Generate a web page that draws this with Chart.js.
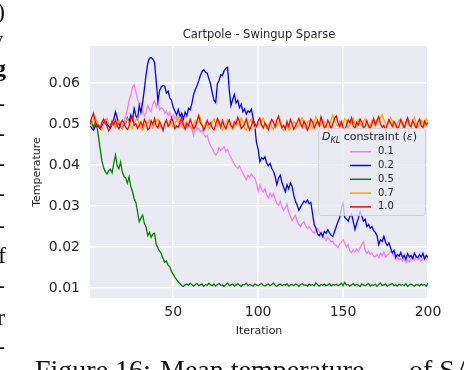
<!DOCTYPE html>
<html lang="en">
<head>
    <meta charset="UTF-8">
    <title>Cartpole - Swingup Sparse</title>
    <!-- Chart.js from CDN -->
    <script src="https://cdn.jsdelivr.net/npm/chart.js"></script>
    <style>
        body {
            margin: 0;
            width: 464px;
            height: 370px;
            overflow: hidden;
            position: relative;
            background-color: #fff;
            font-family: 'DejaVu Sans', sans-serif;
        }
        #chartBox {
            position: absolute;
            left: 0;
            top: 0;
        }
        /* bits of the surrounding paper text */
        .frag {
            position: absolute;
            font-family: 'Liberation Serif', serif;
            font-size: 24px;
            line-height: 24px;
            color: #111;
            white-space: nowrap;
        }
        .cap {
            position: absolute;
            font-family: 'Liberation Serif', serif;
            font-size: 28px;
            line-height: 28px;
            color: #111;
            white-space: nowrap;
            top: 356px;
        }
    </style>
</head>
<body>
    <canvas id="chartBox" width="464" height="370"></canvas>

    <div class="frag" style="left:-3px; top:-1px;">)</div>
    <div class="frag" style="left:-7px; top:27px; font-size:20px;">v</div>
    <div class="frag" style="left:-6px; top:56px; font-weight:bold;">g</div>
    <div class="frag" style="left:-3px; top:91px;">-</div>
    <div class="frag" style="left:-3px; top:121px;">-</div>
    <div class="frag" style="left:-3px; top:151px;">-</div>
    <div class="frag" style="left:-3px; top:181px;">-</div>
    <div class="frag" style="left:-3px; top:213px;">-</div>
    <div class="frag" style="left:-2px; top:243px;">f</div>
    <div class="frag" style="left:-3px; top:273px;">-</div>
    <div class="frag" style="left:-3px; top:305px;">r</div>
    <div class="frag" style="left:-3px; top:334px;">-</div>

    <div class="cap" style="left:35px;">Figure 16:</div>
    <div class="cap" style="left:160px;">Mean temperature</div>
    <div class="cap" style="left:409px;">of SARI</div>

    <script>
        // x axis: iteration number
        const iterations = Array.from({ length: 200 }, (_, i) => i + 1);

        // temperature per KL constraint
        const temp01 = [
            0.0503,0.0498,0.0494,0.0500,0.0506,0.0499,0.0491,0.0496,0.0502,0.0505,0.0497,0.0493,0.0499,0.0504,0.0496,0.0490,0.0498,0.0507,0.0501,0.0496,
            0.0506,0.0520,0.0534,0.0558,0.0571,0.0590,0.0595,0.0578,0.0560,0.0548,0.0552,0.0530,0.0520,0.0528,0.0545,0.0535,0.0530,0.0548,0.0556,0.0542,
            0.0555,0.0535,0.0540,0.0538,0.0526,0.0532,0.0520,0.0528,0.0515,0.0522,0.0513,0.0518,0.0505,0.0497,0.0508,0.0495,0.0502,0.0490,0.0498,0.0494,
            0.0487,0.0473,0.0502,0.0486,0.0490,0.0481,0.0485,0.0476,0.0468,0.0472,0.0458,0.0447,0.0440,0.0431,0.0424,0.0430,0.0442,0.0436,0.0440,0.0444,
            0.0432,0.0438,0.0426,0.0418,0.0410,0.0402,0.0396,0.0392,0.0398,0.0388,0.0380,0.0372,0.0364,0.0375,0.0370,0.0378,0.0372,0.0368,0.0356,0.0336,
            0.0352,0.0340,0.0334,0.0342,0.0328,0.0320,0.0331,0.0322,0.0330,0.0318,0.0306,0.0302,0.0312,0.0298,0.0290,0.0296,0.0305,0.0284,0.0276,0.0265,
            0.0272,0.0278,0.0262,0.0255,0.0250,0.0258,0.0262,0.0252,0.0245,0.0250,0.0244,0.0238,0.0234,0.0240,0.0246,0.0238,0.0230,0.0226,0.0222,0.0216,
            0.0224,0.0218,0.0212,0.0214,0.0206,0.0204,0.0199,0.0208,0.0212,0.0218,0.0210,0.0200,0.0206,0.0190,0.0186,0.0194,0.0188,0.0196,0.0190,0.0198,
            0.0206,0.0213,0.0192,0.0185,0.0190,0.0182,0.0186,0.0178,0.0176,0.0182,0.0174,0.0185,0.0178,0.0188,0.0176,0.0180,0.0184,0.0190,0.0186,0.0178,
            0.0170,0.0176,0.0168,0.0172,0.0166,0.0174,0.0162,0.0168,0.0164,0.0172,0.0176,0.0168,0.0178,0.0170,0.0174,0.0166,0.0172,0.0176,0.0170,0.0178
        ];
        const temp02 = [
            0.0497,0.0490,0.0485,0.0493,0.0500,0.0494,0.0488,0.0495,0.0503,0.0510,0.0501,0.0495,0.0490,0.0498,0.0512,0.0530,0.0515,0.0500,0.0494,0.0489,
            0.0497,0.0503,0.0515,0.0505,0.0522,0.0510,0.0538,0.0520,0.0512,0.0545,0.0528,0.0552,0.0585,0.0620,0.0648,0.0660,0.0662,0.0658,0.0650,0.0603,
            0.0556,0.0582,0.0591,0.0594,0.0592,0.0575,0.0580,0.0563,0.0558,0.0540,0.0531,0.0522,0.0535,0.0518,0.0526,0.0512,0.0529,0.0520,0.0538,0.0535,
            0.0550,0.0572,0.0584,0.0593,0.0605,0.0618,0.0628,0.0632,0.0626,0.0624,0.0610,0.0597,0.0575,0.0558,0.0552,0.0598,0.0606,0.0620,0.0618,0.0630,
            0.0636,0.0638,0.0582,0.0545,0.0560,0.0572,0.0551,0.0558,0.0540,0.0548,0.0530,0.0537,0.0524,0.0532,0.0528,0.0536,0.0515,0.0495,0.0455,0.0438,
            0.0408,0.0418,0.0414,0.0420,0.0405,0.0398,0.0404,0.0392,0.0385,0.0372,0.0352,0.0368,0.0375,0.0358,0.0346,0.0335,0.0352,0.0342,0.0356,0.0348,
            0.0326,0.0311,0.0302,0.0290,0.0298,0.0305,0.0312,0.0308,0.0315,0.0306,0.0309,0.0282,0.0255,0.0246,0.0232,0.0228,0.0235,0.0226,0.0238,0.0234,
            0.0242,0.0235,0.0228,0.0226,0.0238,0.0250,0.0262,0.0272,0.0295,0.0308,0.0272,0.0268,0.0263,0.0275,0.0280,0.0262,0.0243,0.0258,0.0270,0.0287,
            0.0276,0.0263,0.0268,0.0250,0.0255,0.0246,0.0250,0.0240,0.0236,0.0228,0.0206,0.0218,0.0214,0.0226,0.0212,0.0204,0.0210,0.0198,0.0186,0.0192,
            0.0175,0.0182,0.0178,0.0187,0.0174,0.0180,0.0170,0.0184,0.0176,0.0180,0.0172,0.0185,0.0177,0.0174,0.0182,0.0176,0.0185,0.0171,0.0180,0.0175
        ];
        const temp05 = [
            0.0498,0.0505,0.0492,0.0503,0.0496,0.0470,0.0438,0.0410,0.0394,0.0384,0.0378,0.0386,0.0390,0.0381,0.0404,0.0424,0.0398,0.0391,0.0407,0.0384,
            0.0372,0.0368,0.0356,0.0371,0.0348,0.0336,0.0318,0.0309,0.0286,0.0262,0.0271,0.0278,0.0258,0.0249,0.0228,0.0236,0.0224,0.0232,0.0234,0.0206,
            0.0198,0.0190,0.0184,0.0172,0.0163,0.0166,0.0156,0.0152,0.0140,0.0134,0.0127,0.0121,0.0115,0.0111,0.0106,0.0104,0.0108,0.0110,0.0107,0.0112,
            0.0108,0.0105,0.0109,0.0111,0.0106,0.0108,0.0110,0.0104,0.0109,0.0107,0.0112,0.0108,0.0106,0.0110,0.0105,0.0109,0.0111,0.0107,0.0108,0.0104,
            0.0109,0.0112,0.0106,0.0108,0.0110,0.0105,0.0108,0.0111,0.0107,0.0104,0.0109,0.0108,0.0112,0.0106,0.0109,0.0107,0.0105,0.0110,0.0108,0.0106,
            0.0109,0.0111,0.0107,0.0105,0.0108,0.0110,0.0106,0.0109,0.0112,0.0107,0.0104,0.0108,0.0110,0.0106,0.0109,0.0107,0.0111,0.0105,0.0108,0.0109,
            0.0106,0.0110,0.0108,0.0104,0.0109,0.0111,0.0107,0.0108,0.0105,0.0110,0.0107,0.0109,0.0106,0.0113,0.0108,0.0105,0.0109,0.0107,0.0110,0.0106,
            0.0108,0.0111,0.0105,0.0109,0.0107,0.0110,0.0106,0.0108,0.0112,0.0106,0.0114,0.0107,0.0109,0.0105,0.0108,0.0111,0.0106,0.0109,0.0107,0.0104,
            0.0110,0.0108,0.0106,0.0109,0.0111,0.0105,0.0108,0.0107,0.0110,0.0104,0.0109,0.0112,0.0106,0.0108,0.0110,0.0105,0.0107,0.0109,0.0111,0.0106,
            0.0108,0.0105,0.0110,0.0107,0.0109,0.0106,0.0111,0.0104,0.0108,0.0110,0.0107,0.0105,0.0109,0.0108,0.0106,0.0110,0.0107,0.0109,0.0105,0.0112
        ];
        const temp07 = [
            0.0495,0.0501,0.0510,0.0517,0.0505,0.0498,0.0492,0.0486,0.0499,0.0508,0.0513,0.0502,0.0494,0.0500,0.0506,0.0491,0.0497,0.0509,0.0503,0.0488,
            0.0494,0.0505,0.0513,0.0500,0.0496,0.0489,0.0502,0.0510,0.0515,0.0498,0.0490,0.0485,0.0497,0.0506,0.0501,0.0511,0.0494,0.0490,0.0499,0.0507,
            0.0512,0.0498,0.0493,0.0487,0.0500,0.0505,0.0496,0.0508,0.0502,0.0491,0.0497,0.0510,0.0516,0.0503,0.0495,0.0489,0.0494,0.0506,0.0499,0.0493,
            0.0487,0.0498,0.0509,0.0501,0.0506,0.0514,0.0496,0.0491,0.0503,0.0497,0.0489,0.0494,0.0506,0.0512,0.0500,0.0493,0.0508,0.0498,0.0486,0.0496,
            0.0503,0.0511,0.0499,0.0492,0.0486,0.0495,0.0509,0.0502,0.0496,0.0514,0.0507,0.0490,0.0485,0.0499,0.0506,0.0512,0.0497,0.0489,0.0494,0.0502,
            0.0497,0.0508,0.0514,0.0501,0.0490,0.0496,0.0505,0.0493,0.0487,0.0500,0.0495,0.0503,0.0509,0.0488,0.0484,0.0492,0.0498,0.0485,0.0489,0.0497,
            0.0506,0.0502,0.0491,0.0497,0.0510,0.0515,0.0499,0.0490,0.0504,0.0508,0.0496,0.0489,0.0503,0.0517,0.0507,0.0494,0.0498,0.0509,0.0501,0.0492,
            0.0487,0.0498,0.0511,0.0522,0.0508,0.0500,0.0494,0.0506,0.0496,0.0503,0.0513,0.0507,0.0491,0.0499,0.0505,0.0514,0.0500,0.0493,0.0510,0.0502,
            0.0496,0.0505,0.0512,0.0501,0.0490,0.0497,0.0509,0.0506,0.0494,0.0500,0.0511,0.0515,0.0523,0.0510,0.0501,0.0496,0.0504,0.0515,0.0508,0.0497,
            0.0493,0.0501,0.0510,0.0506,0.0496,0.0489,0.0498,0.0512,0.0503,0.0495,0.0507,0.0516,0.0502,0.0492,0.0499,0.0510,0.0504,0.0495,0.0513,0.0506
        ];
        const temp10 = [
            0.0502,0.0515,0.0526,0.0508,0.0493,0.0497,0.0489,0.0504,0.0512,0.0501,0.0495,0.0483,0.0491,0.0507,0.0499,0.0510,0.0496,0.0488,0.0500,0.0509,
            0.0503,0.0492,0.0487,0.0494,0.0512,0.0518,0.0497,0.0501,0.0489,0.0496,0.0505,0.0493,0.0511,0.0502,0.0486,0.0490,0.0508,0.0499,0.0513,0.0495,
            0.0491,0.0506,0.0496,0.0484,0.0502,0.0510,0.0494,0.0499,0.0515,0.0505,0.0488,0.0495,0.0492,0.0503,0.0517,0.0498,0.0487,0.0501,0.0496,0.0511,
            0.0500,0.0489,0.0493,0.0507,0.0521,0.0502,0.0497,0.0485,0.0494,0.0509,0.0498,0.0503,0.0490,0.0486,0.0499,0.0513,0.0504,0.0492,0.0508,0.0495,
            0.0488,0.0502,0.0510,0.0496,0.0491,0.0505,0.0499,0.0516,0.0506,0.0489,0.0493,0.0500,0.0512,0.0497,0.0485,0.0496,0.0509,0.0501,0.0494,0.0507,
            0.0514,0.0498,0.0490,0.0503,0.0495,0.0486,0.0500,0.0511,0.0504,0.0493,0.0509,0.0519,0.0502,0.0491,0.0497,0.0488,0.0506,0.0494,0.0511,0.0499,
            0.0487,0.0496,0.0504,0.0513,0.0500,0.0492,0.0507,0.0498,0.0485,0.0494,0.0512,0.0505,0.0491,0.0499,0.0508,0.0496,0.0517,0.0503,0.0490,0.0495,
            0.0509,0.0500,0.0488,0.0501,0.0514,0.0520,0.0503,0.0494,0.0506,0.0491,0.0486,0.0497,0.0510,0.0502,0.0515,0.0495,0.0489,0.0504,0.0498,0.0512,
            0.0505,0.0490,0.0494,0.0508,0.0496,0.0487,0.0500,0.0513,0.0499,0.0509,0.0518,0.0501,0.0492,0.0497,0.0485,0.0498,0.0510,0.0503,0.0494,0.0506,
            0.0499,0.0487,0.0495,0.0511,0.0502,0.0490,0.0505,0.0515,0.0497,0.0493,0.0508,0.0500,0.0489,0.0503,0.0512,0.0496,0.0491,0.0507,0.0498,0.0504
        ];

        const seriesLabels = ['0.1', '0.2', '0.5', '0.7', '1.0'];
        const seriesColors = ['#ee82ee', '#0000ff', '#008000', '#ffa500', '#ff0000'];
        const xTicks = [50, 100, 150, 200];
        const yTicks = [0.01, 0.02, 0.03, 0.04, 0.05, 0.06];

        const textColor = '#262626';
        Chart.defaults.font.family = "'DejaVu Sans', sans-serif";
        Chart.defaults.color = textColor;

        // grey plot background (seaborn style)
        const plotBackground = {
            id: 'plotBackground',
            beforeDraw(chart) {
                const { ctx, chartArea: a } = chart;
                ctx.save();
                ctx.fillStyle = '#eaeaf2';
                ctx.fillRect(a.left, a.top, a.right - a.left, a.bottom - a.top);
                ctx.restore();
            }
        };

        // title above the plot
        const plotTitle = {
            id: 'plotTitle',
            afterDraw(chart) {
                const { ctx, chartArea: a } = chart;
                ctx.save();
                ctx.font = "11.5px 'DejaVu Sans', sans-serif";
                ctx.fillStyle = textColor;
                ctx.textAlign = 'center';
                ctx.textBaseline = 'middle';
                ctx.fillText('Cartpole - Swingup Sparse', (a.left + a.right) / 2, 35);
                ctx.restore();
            }
        };

        // legend box drawn inside the plot, like matplotlib's
        const insideLegend = {
            id: 'insideLegend',
            afterDatasetsDraw(chart) {
                const ctx = chart.ctx;
                const bx = 318.5, by = 128.5, bw = 107, bh = 87;
                ctx.save();
                ctx.beginPath();
                ctx.roundRect(bx, by, bw, bh, 3);
                ctx.fillStyle = 'rgba(234, 234, 242, 0.8)';
                ctx.fill();
                ctx.strokeStyle = 'rgba(204, 204, 204, 0.8)';
                ctx.lineWidth = 1;
                ctx.stroke();

                // title: D_KL constraint (ε)
                ctx.fillStyle = textColor;
                ctx.textBaseline = 'alphabetic';
                ctx.textAlign = 'left';
                let x = 322;
                const base = 140;
                ctx.font = "italic 11px 'DejaVu Sans', sans-serif";
                ctx.fillText('D', x, base);
                x += ctx.measureText('D').width;
                ctx.font = "italic 8px 'DejaVu Sans', sans-serif";
                ctx.fillText('KL', x, base + 2.5);
                x += ctx.measureText('KL').width;
                ctx.font = "11px 'DejaVu Sans', sans-serif";
                ctx.fillText(' constraint (', x, base);
                x += ctx.measureText(' constraint (').width;
                ctx.font = "italic 11px 'DejaVu Sans', sans-serif";
                ctx.fillText('\u03b5', x, base);
                x += ctx.measureText('\u03b5').width;
                ctx.font = "11px 'DejaVu Sans', sans-serif";
                ctx.fillText(')', x, base);

                // entries
                ctx.font = "10px 'DejaVu Sans', sans-serif";
                ctx.textBaseline = 'middle';
                seriesLabels.forEach((label, i) => {
                    const y = 151.7 + i * 13.8;
                    ctx.beginPath();
                    ctx.moveTo(350, y);
                    ctx.lineTo(371, y);
                    ctx.strokeStyle = seriesColors[i];
                    ctx.lineWidth = 1.5;
                    ctx.stroke();
                    ctx.fillStyle = textColor;
                    ctx.fillText(label, 378, y);
                });
                ctx.restore();
            }
        };

        const allSeries = [temp01, temp02, temp05, temp07, temp10];
        const datasets = allSeries.map((values, i) => ({
            label: seriesLabels[i],
            data: values.map((v, j) => ({ x: iterations[j], y: v })),
            borderColor: seriesColors[i],
            borderWidth: 1.3,
            pointRadius: 0,
            tension: 0,
            fill: false,
            order: allSeries.length - i   // last series drawn on top
        }));

        const ctx = document.getElementById('chartBox').getContext('2d');
        new Chart(ctx, {
            type: 'line',
            data: { datasets },
            plugins: [plotBackground, plotTitle, insideLegend],
            options: {
                responsive: false,
                animation: false,
                layout: { padding: { left: 30, right: 36, top: 46, bottom: 32 } },
                plugins: {
                    legend: { display: false },
                    tooltip: { enabled: false }
                },
                scales: {
                    x: {
                        type: 'linear',
                        min: 1,
                        max: 200,
                        afterBuildTicks: s => { s.ticks = xTicks.map(v => ({ value: v })); },
                        afterFit: s => { s.height = 40; },
                        ticks: {
                            font: { size: 14 },
                            color: textColor,
                            padding: 6,
                            maxRotation: 0,
                            callback: v => String(v)
                        },
                        grid: { color: '#ffffff', lineWidth: 1.5, drawTicks: false },
                        border: { display: false },
                        title: {
                            display: true,
                            text: 'Iteration',
                            font: { size: 11 },
                            color: textColor,
                            padding: { top: 0, bottom: 0 }
                        }
                    },
                    y: {
                        min: 0.0076,
                        max: 0.069,
                        afterBuildTicks: s => { s.ticks = yTicks.map(v => ({ value: v })); },
                        afterFit: s => { s.width = 60; },
                        ticks: {
                            font: { size: 14 },
                            color: textColor,
                            padding: 10,
                            callback: v => v.toFixed(2)
                        },
                        grid: { color: '#ffffff', lineWidth: 1.5, drawTicks: false },
                        border: { display: false },
                        title: {
                            display: true,
                            text: 'Temperature',
                            font: { size: 11 },
                            color: textColor,
                            padding: { top: 1, bottom: 0 }
                        }
                    }
                }
            }
        });
    </script>
</body>
</html>
